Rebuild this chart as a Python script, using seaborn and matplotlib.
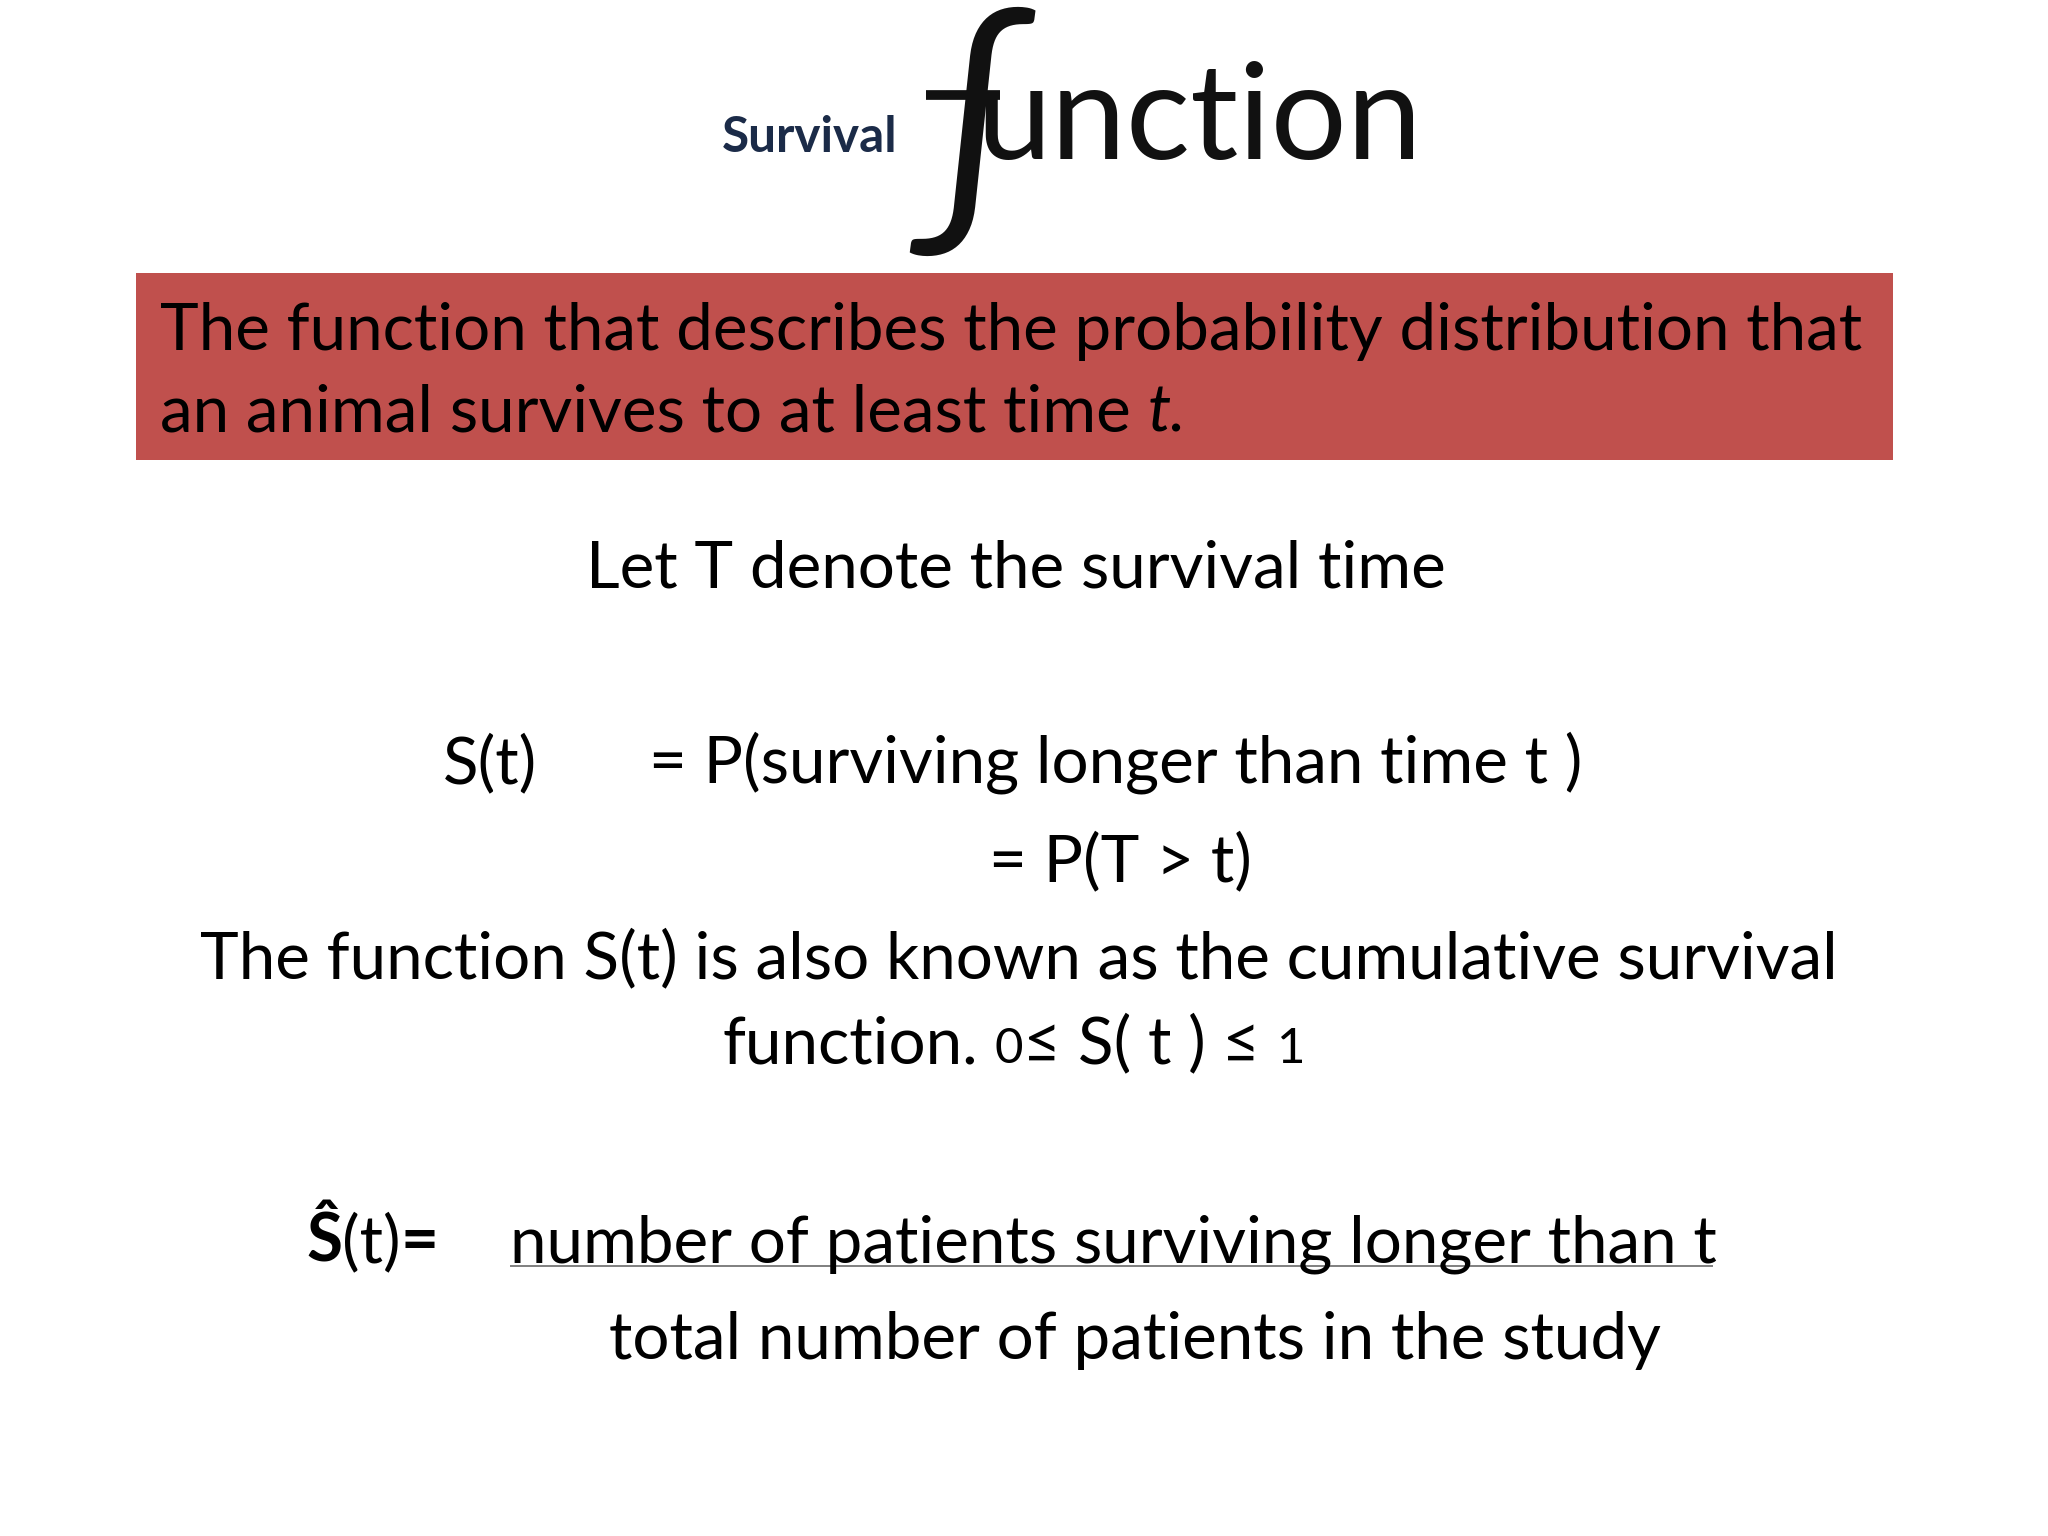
import matplotlib
matplotlib.use("Agg")
import matplotlib.pyplot as plt
import seaborn as sns
from matplotlib.patches import Rectangle
from matplotlib.font_manager import FontProperties
from matplotlib.textpath import TextPath

sns.set_theme(style="white")
BODY = ["Lato", "DejaVu Sans"]
plt.rcParams["font.family"] = BODY

# ---- slide text (data) ----
title_word = "Survival"
logo_hook = "∫"
logo_rest = "unction"
definition_line1 = "The function that describes the probability distribution that"
definition_line2 = "an animal survives to at least time"
definition_var = "t."
let_line = "Let T denote the survival time"
sf_lhs = "S(t)"
sf_rhs = ["= P(surviving longer than time t )", "= P(T > t)"]
cum_line1 = "The function S(t) is also known as the cumulative survival"
cum_line2_parts = ["function.", "0", "≤", "S( t )", "≤", "1"]
est_lhs_parts = ["Ŝ", "(t)", "="]
est_numerator = "number of patients surviving longer than t"
est_denominator = "total number of patients in the study"

# ---- colours ----
BOX_RED = "#C0504D"
NAVY = "#1B2B48"
INK = "#000000"
LOGO = "#111111"

W, H = 2048, 1536
fig = plt.figure(figsize=(W / 100, H / 100), dpi=100)
fig.patch.set_facecolor("white")
ax = fig.add_axes([0, 0, 1, 1])
ax.set_xlim(0, W)
ax.set_ylim(H, 0)
ax.set_axis_off()
renderer = fig.canvas.get_renderer()
PX = 100 / 72


def ink(s, fs, **fp):
    e = TextPath((0, 0), s, size=fs, prop=FontProperties(**fp)).get_extents()
    return e.x0 * PX, e.x1 * PX, e.y0 * PX, e.y1 * PX


def fit(s, target, **fp):
    x0, x1, _, _ = ink(s, 100, **fp)
    return 100 * target / (x1 - x0)


def adv(s, fs, **fp):
    prop = FontProperties(size=fs, **fp)
    w1 = renderer.get_text_width_height_descent(s + "x", prop, ismath=False)[0]
    w2 = renderer.get_text_width_height_descent("x", prop, ismath=False)[0]
    return w1 - w2


def space(fs, **fp):
    return adv("a a", fs, **fp) - adv("aa", fs, **fp)


def run(parts, x, base, center=False):
    # parts: (text, fontsize, props, gap_in_spaces)
    widths = []
    for s, fs, kw, g in parts:
        fp = {k: kw[k] for k in ("family", "weight", "style") if k in kw}
        widths.append(adv(s, fs, **fp) + g * space(fs, **fp))
    if center:
        x = x - sum(widths) / 2
    for (s, fs, kw, g), w in zip(parts, widths):
        ax.text(x, base, s, fontsize=fs, ha="left", va="baseline", **kw)
        x += w
    return x


# ---- title logo ----
fs_title = fit(title_word, 171, family=BODY, weight="bold")
ax.text(722, 152, title_word, fontsize=fs_title, weight="bold", color=NAVY,
        ha="left", va="baseline")

hook_fp = dict(family=BODY)
hx0, hx1, hy0, hy1 = ink(logo_hook, 100, **hook_fp)
fs_hook = 100 * 249 / (hy1 - hy0)
k = fs_hook / 100
ax.text(908 , 7 + hy1 * k, logo_hook, fontsize=fs_hook, color=LOGO,
        ha="left", va="baseline", **hook_fp)
# crossbar of the stylised f
ax.plot([926, 1000], [95, 95], color=LOGO, lw=7, solid_capstyle="butt")

fs_rest = fit(logo_rest, 428, family=BODY)
ax.text(976, 159, logo_rest, fontsize=fs_rest, color=LOGO,
        ha="left", va="baseline")

# ---- definition box ----
ax.add_patch(Rectangle((136, 273), 1893 - 136, 460 - 273, facecolor=BOX_RED,
                       edgecolor="none", zorder=0))
fs_box = fit(definition_line1, 1702, family=BODY)
ax.text(160, 350, definition_line1, fontsize=fs_box, color=INK, ha="left", va="baseline")
run([(definition_line2, fs_box, dict(color=INK), 1),
     (definition_var, fs_box, dict(color=INK, style="italic"), 0)], 160, 431)

# ---- body ----
fs_body = fit(cum_line1, 1633, family=BODY)

ax.text(1016, 588, let_line, fontsize=fs_body, color=INK, ha="center", va="baseline")

ax.text(443, 783, sf_lhs, fontsize=fs_body, color=INK, ha="left", va="baseline")
ax.text(649, 783, sf_rhs[0], fontsize=fs_body, color=INK, ha="left", va="baseline")
ax.text(989, 881, sf_rhs[1], fontsize=fs_body, color=INK, ha="left", va="baseline")

ax.text(200, 978, cum_line1, fontsize=fs_body, color=INK, ha="left", va="baseline")
small_num = 0.75 * fs_body
leq = 1.0 * fs_body
run([(cum_line2_parts[0], fs_body, dict(color=INK), 1),
     (cum_line2_parts[1], small_num, dict(color=INK), 0),
     (cum_line2_parts[2], leq, dict(color=INK), 1),
     (cum_line2_parts[3], fs_body, dict(color=INK), 1),
     (cum_line2_parts[4], leq, dict(color=INK), 1),
     (cum_line2_parts[5], small_num, dict(color=INK), 0)], 1014, 1063, center=True)

run([(est_lhs_parts[0], fs_body, dict(color=INK, weight="bold"), 0),
     (est_lhs_parts[1], fs_body, dict(color=INK), 0),
     (est_lhs_parts[2], fs_body, dict(color=INK, weight="bold"), 0)], 306, 1262)

ax.text(510, 1262, est_numerator, fontsize=fs_body, color=INK, ha="left", va="baseline")
nx0, nx1, _, _ = ink(est_numerator, fs_body, family=BODY)
ax.plot([510, 510 + (nx1 - nx0)], [1266, 1266], color="#7F7F7F", lw=1.4,
        solid_capstyle="butt")
ax.text(1135, 1359, est_denominator, fontsize=fs_body, color=INK, ha="center",
        va="baseline")

fig.savefig("out.png", dpi=100, facecolor="white")
